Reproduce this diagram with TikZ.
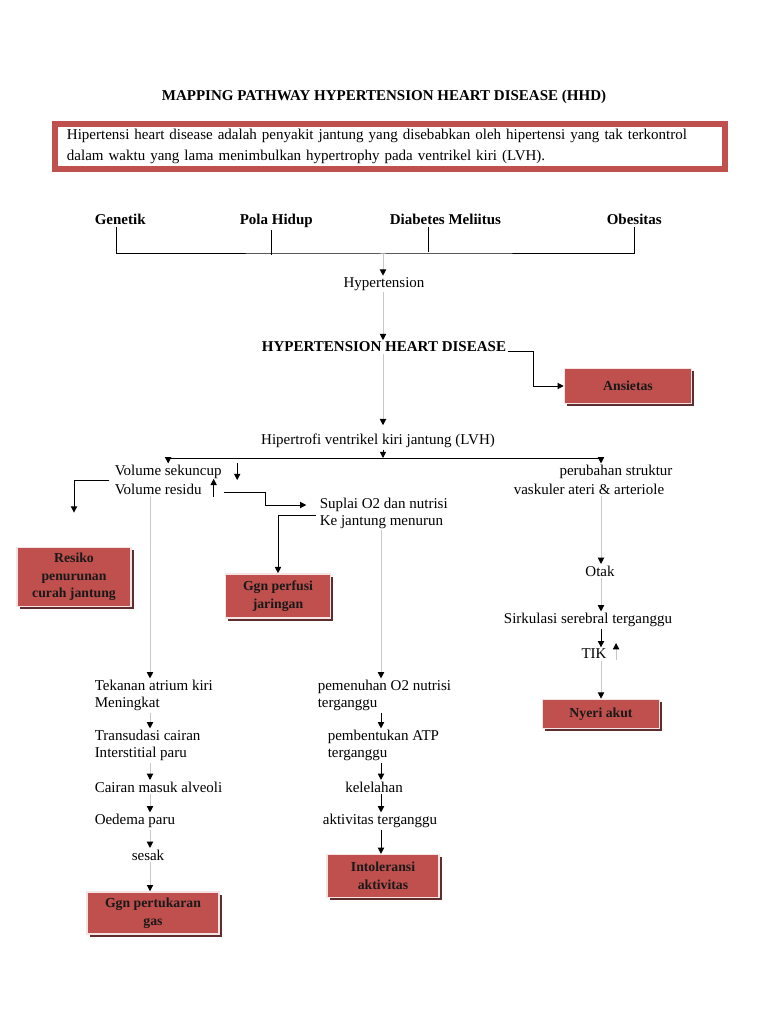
\documentclass[tikz,border=0pt]{standalone}
\usepackage{fontspec}
\setmainfont{Liberation Serif}
\usepackage{xcolor}
\usetikzlibrary{
    arrows,
    arrows.meta,
    calc,
    positioning,
    shadows
}
\definecolor{boxred}{RGB}{192,80,77}
\definecolor{boxrim}{RGB}{245,228,227}
\definecolor{boxshade}{RGB}{95,45,45}
\definecolor{flowgrey}{RGB}{200,200,200}

\begin{document}
\begin{tikzpicture}[x=0.2811mm, y=-0.2811mm, thick,
    every node/.style={inner sep=1pt, align=left, font=\fontsize{12}{13.6}\selectfont},
    bold/.style={font=\bfseries\fontsize{12}{13.6}\selectfont},
    probbox/.style={draw=boxrim, line width=1.2pt, fill=boxred, align=center, inner sep=2pt,
        text=black!90, font=\bfseries\fontsize{11}{14}\selectfont,
        drop shadow={shadow xshift=2.2pt, shadow yshift=-2.2pt, fill=boxshade, opacity=1}},
    gflow/.style={draw=flowgrey, -{Triangle[color=black, length=5pt, width=5pt]}},
    bflow/.style={-{Triangle[length=5pt, width=5pt]}}]
\fill[white] (0,0) rectangle (768,1024);
\useasboundingbox (0,0) rectangle (768,1024);

\node[bold] (title) at (384,97) {MAPPING PATHWAY HYPERTENSION HEART DISEASE (HHD)};
\node[draw=boxred, line width=4.5pt, fill=white, inner xsep=3.4mm,
    minimum width=18.84cm, minimum height=1.28cm, text width=18.16cm,
    font=\fontsize{12}{16.8}\selectfont,
    drop shadow={shadow xshift=2pt, shadow yshift=-2pt, fill=black!40, opacity=1}] (def) at (390,146.5)
    {Hipertensi heart disease adalah penyakit jantung yang disebabkan oleh hipertensi yang tak terkontrol\\
     dalam waktu yang lama menimbulkan hypertrophy pada ventrikel kiri (LVH).};

\node[bold, anchor=base west] (gen) at (93,225) {Genetik};
\node[bold, anchor=base west] (pola) at (238,225) {Pola Hidup};
\node[bold, anchor=base west] (dm) at (388,225) {Diabetes Meliitus};
\node[bold, anchor=base west] (obe) at (605,225) {Obesitas};
\coordinate (bus) at (383,254);
\draw ([xshift=-1.1mm]gen.south) |- (bus) -| (obe.south);
\draw ([xshift=-1.4mm]pola.south) -- ++(0,25);
\draw ([xshift=-4.8mm]dm.south) -- ++(0,25);

\node (hyp) at (384,284) {Hypertension};
\draw[gflow] (bus) -- (bus |- hyp.north);
\node[bold] (hhd) at (384,347) {HYPERTENSION HEART DISEASE};
\draw[gflow] (hyp.south -| bus) -- (hhd.north -| bus);
\node[probbox, minimum width=3.57cm, minimum height=0.98cm] (ans) at (628,386) {Ansietas};
\draw[bflow] ([yshift=-1.4mm]hhd.east) -- ++(26,0) |- (ans.west);

\node (lvh) at (378,441) {Hipertrofi ventrikel kiri jantung (LVH)};
\draw[gflow, shorten >=2mm] (hhd.south -| bus) -- (lvh.north -| bus);
\coordinate (split) at (383,458);
\coordinate (rcol) at (601,0);
\draw[bflow] (lvh.south -| split) -- (split);

\node[anchor=west] (vsk) at (113,472) {Volume sekuncup};
\node[anchor=west] (vres) at (113,489) {Volume residu};
\node (psv1) at (616,472) {perubahan struktur};
\node (psv2) at (589,489) {vaskuler ateri \& arteriole};
\draw[bflow] (split) -| (vsk.north);
\draw[bflow] (split) -| (psv1.north -| rcol);
\draw[bflow] ([xshift=3.9mm, yshift=2.5mm]vsk.east) -- ++(0,17);
\draw[bflow] ([xshift=2.9mm, yshift=-2.2mm]vres.east) -- ++(0,-18);

\node[anchor=west] (sup1) at (318,505) {Suplai O2 dan nutrisi};
\node[anchor=west] (sup2) at (318,522) {Ke jantung menurun};
\draw[bflow, shorten >=3.3mm] ([xshift=5.7mm, yshift=-0.85mm]vres.east) -- ++(42,0) |- (sup1.west);
\node[probbox, minimum width=2.95cm, minimum height=1.24cm] (perf) at (278,596) {Ggn perfusi\\jaringan};
\draw[bflow] ([xshift=-0.5mm, yshift=1.7mm]sup2.west) -| (perf.north);
\node[probbox, minimum width=3.2cm, minimum height=1.66cm] (res) at (74,577) {Resiko\\penurunan\\curah jantung};
\draw[bflow, shorten >=9.6mm] ([xshift=-1mm, yshift=-2.5mm]vsk.west) -| (res.north);

\coordinate (lcol) at (150,0);
\node[anchor=west] (tek) at (93,695.5) {Tekanan atrium kiri\\Meningkat};
\node[anchor=west] (tra) at (93,745.5) {Transudasi cairan\\Interstitial paru};
\node[anchor=west] (cai) at (93,787) {Cairan masuk alveoli};
\node[anchor=west] (oed) at (93,821) {Oedema paru};
\node (ses) at (148,855) {sesak};
\node[probbox, minimum width=3.7cm, minimum height=1.18cm] (gas) at (153,913) {Ggn pertukaran\\gas};
\draw[gflow] (vres.south -| lcol) -- (tek.north -| lcol);
\draw[gflow] (tek.south -| lcol) -- (tra.north -| lcol);
\draw[gflow] (tra.south -| lcol) -- (cai.north -| lcol);
\draw[gflow] (cai.south -| lcol) -- (oed.north -| lcol);
\draw[gflow] (oed.south -| lcol) -- (ses.north -| lcol);
\draw[gflow] (ses.south -| lcol) -- (gas.north -| lcol);

\coordinate (mcol) at (381,0);
\node[anchor=west] (pem) at (316,695.5) {pemenuhan O2 nutrisi\\terganggu};
\node[anchor=west] (atp) at (326,745.5) {pembentukan ATP\\terganggu};
\node (kel) at (374,787) {kelelahan};
\node (akt) at (380,821) {aktivitas terganggu};
\node[probbox, minimum width=3.15cm, minimum height=1.2cm] (into) at (383,876) {Intoleransi\\aktivitas};
\draw[gflow] (sup2.south -| mcol) -- (pem.north -| mcol);
\draw[bflow] (pem.south -| mcol) -- (atp.north -| mcol);
\draw[bflow] (atp.south -| mcol) -- (kel.north -| mcol);
\draw[bflow] (kel.south -| mcol) -- (akt.north -| mcol);
\draw[bflow] (akt.south -| mcol) -- (into.north -| mcol);

\node (otak) at (600,571) {Otak};
\node (sir) at (588,620) {Sirkulasi serebral terganggu};
\node (tik) at (594,654) {TIK};
\node[probbox, minimum width=3.3cm, minimum height=0.82cm] (nye) at (601,714) {Nyeri akut};
\draw[gflow] (psv2.south -| rcol) -- (otak.north -| rcol);
\draw[gflow] (otak.south -| rcol) -- (sir.north -| rcol);
\draw[bflow] (sir.south -| rcol) -- (tik.north -| rcol);
\draw[gflow] (tik.south -| rcol) -- (nye.north -| rcol);
\draw[gflow] ([xshift=2.2mm, yshift=-1.7mm]tik.east) -- ++(0,-17);
\end{tikzpicture}
\end{document}
